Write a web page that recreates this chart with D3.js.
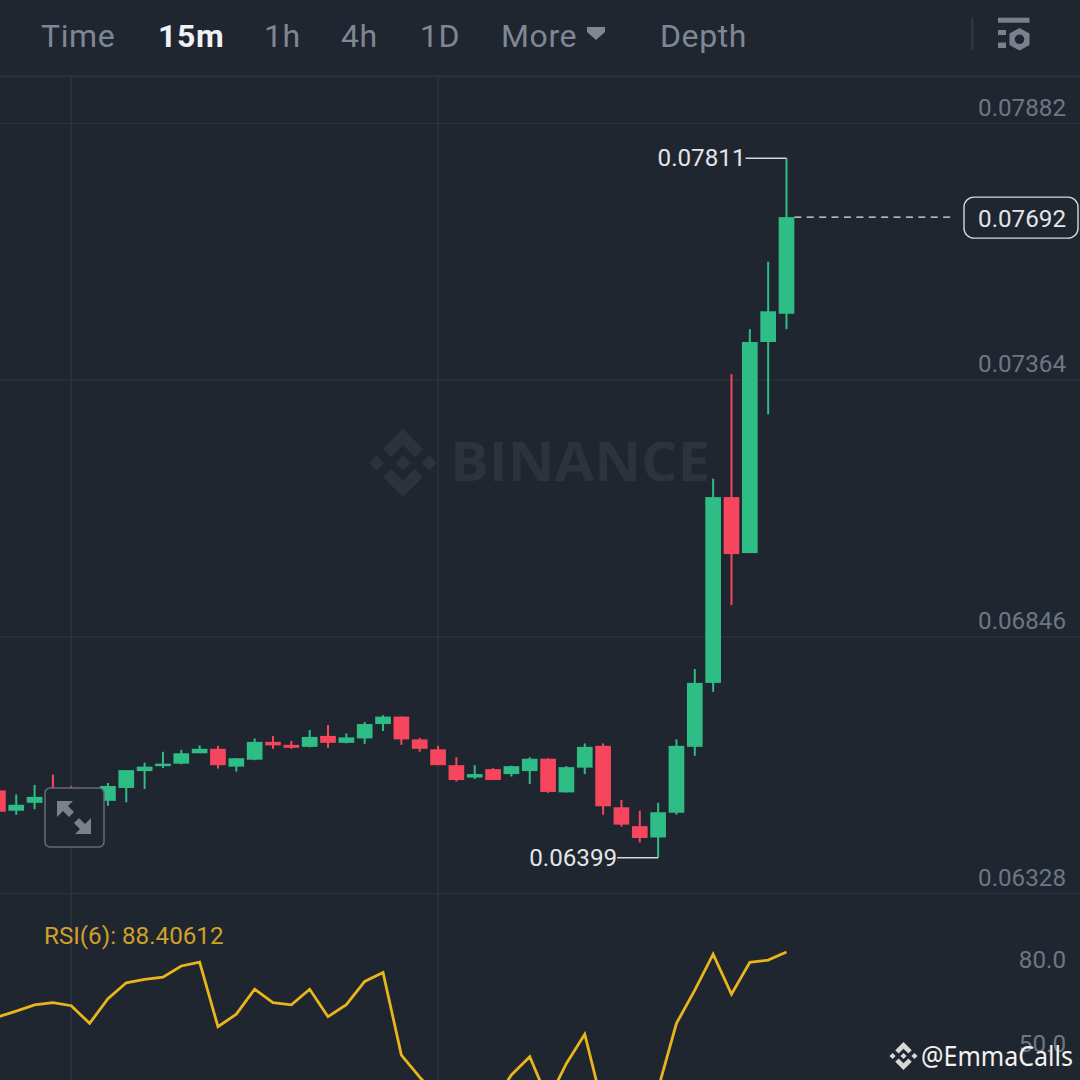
<!DOCTYPE html>
<html>
<head>
<meta charset="utf-8">
<script src="https://cdn.jsdelivr.net/npm/d3@7"></script>
<style>
  html, body { margin: 0; padding: 0; background: #1f2630; }
  svg { display: block; font-family: Roboto, sans-serif; }
</style>
</head>
<body>
<div id="chart-area"></div>
<script>
// 15m candles (three behind the expand button are guesses)
let opens = [0.06535, 0.06494, 0.0651, 0.06536, 0.06532, 0.06516, 0.06514, 0.0654, 0.06574, 0.06584, 0.06589,
  0.0661, 0.06619, 0.06583, 0.06597, 0.06633, 0.06627, 0.06623, 0.06645, 0.06631, 0.0664, 0.06669,
  0.06684, 0.06638, 0.06618, 0.06586, 0.06561, 0.06578, 0.06568, 0.06574, 0.06599, 0.06531, 0.06581,
  0.06625, 0.06501, 0.06463, 0.0644, 0.0649, 0.06623, 0.06752, 0.07127, 0.07014, 0.0744, 0.07497];
let closes = [0.06492, 0.06506, 0.06522, 0.06522, 0.06518, 0.06526, 0.06544, 0.06576, 0.06583, 0.06589, 0.0661,
  0.06619, 0.06586, 0.066, 0.06633, 0.06626, 0.06621, 0.06643, 0.06631, 0.06642, 0.06669, 0.06684,
  0.06638, 0.06619, 0.06586, 0.06556, 0.06568, 0.06556, 0.06584, 0.06599, 0.06532, 0.06582, 0.06623,
  0.06503, 0.06466, 0.06439, 0.06491, 0.06625, 0.06752, 0.07127, 0.07012, 0.0744, 0.07502, 0.07692];
let highs = [0.06535, 0.06527, 0.06546, 0.06567, 0.06544, 0.06532, 0.0655, 0.06576, 0.06591, 0.06613, 0.06617,
  0.06626, 0.06625, 0.066, 0.0664, 0.06645, 0.06635, 0.06657, 0.06667, 0.0665, 0.06673, 0.06687,
  0.06684, 0.06641, 0.06625, 0.06602, 0.06586, 0.0658, 0.06585, 0.06602, 0.066, 0.06584, 0.0663,
  0.0663, 0.06516, 0.06494, 0.0651, 0.06638, 0.0678, 0.07164, 0.07375, 0.07466, 0.07602, 0.07811];
let lows = [0.06492, 0.06486, 0.06497, 0.06516, 0.06514, 0.0651, 0.06504, 0.06511, 0.06538, 0.0658, 0.06588,
  0.0661, 0.06579, 0.06573, 0.06596, 0.06619, 0.06619, 0.06622, 0.06621, 0.0663, 0.06629, 0.06655,
  0.06627, 0.06613, 0.06586, 0.06553, 0.06558, 0.06556, 0.06563, 0.06548, 0.0653, 0.06531, 0.06568,
  0.06486, 0.06462, 0.0643, 0.06399, 0.06486, 0.06605, 0.06734, 0.06909, 0.07014, 0.07294, 0.07466];
// values past the bottom of the picture are estimates
let rsi = [65.2, 67.3, 69.5, 70.3, 69.2, 62.9, 71.7, 77.4, 78.6, 79.4, 83.4,
  84.8, 61.7, 66.2, 75.1, 70.3, 69.5, 75.1, 65.3, 69.6, 77.9, 81.1,
  51.6, 43.7, 36.6, 32, 32.7, 34.5, 44.5, 51, 35.5, 48.6, 59,
  32.7, 28.4, 25.5, 39.5, 62.9, 74.8, 87.6, 73.3, 84.7, 85.5, 88.4];

let priceTicks = [0.07882, 0.07364, 0.06846, 0.06328];
let rsiTicks = [80, 50];
let timeGrid = [4, 24];
let menuItems = ['Time', '15m', '1h', '4h', '1D', 'More', 'Depth'];
let menuX = [41, 158, 264, 341, 420, 501, 660];

let bg = '#1f2630';
let gridColor = '#2e343f';
let tickColor = '#6f7683';
let menuColor = '#7f8794';
let green = '#2ebd85';
let red = '#f6465d';

let width = 1080;
let height = 1080;

let chart = d3
  .select('#chart-area')
  .append('svg')
  .attr('id', 'chart')
  .attr('width', width)
  .attr('height', height);

chart.append('rect').attr('width', width).attr('height', height).attr('fill', bg);

let x = d3.scaleLinear().domain([0, 43]).range([-2.1, 786.5]);
let y = d3.scaleLinear().domain([0.06328, 0.07882]).range([893, 123]);
let yRsi = d3.scaleLinear().domain([50, 80]).range([1059.5, 975.5]);

let candleWidth = 15.7;

//binance logo, radius 1 around the origin
function drawLogo(parent, cx, cy, r, color) {
  let logo = parent
    .append('g')
    .attr('transform', `translate(${cx},${cy}) scale(${r})`)
    .attr('fill', color);
  let shapes = [
    'M0,-1L.59,-.41L.35,-.17L0,-.52L-.35,-.17L-.59,-.41Z',
    'M0,1L.59,.41L.35,.17L0,.52L-.35,.17L-.59,.41Z',
    'M0,-.22L.22,0L0,.22L-.22,0Z',
    'M-.78,-.22L-.56,0L-.78,.22L-1,0Z',
    'M.78,-.22L1,0L.78,.22L.56,0Z',
  ];
  logo.selectAll('path').data(shapes).enter().append('path').attr('d', (d) => d);
}

//vertical time grid
chart
  .append('g')
  .selectAll('line')
  .data(timeGrid)
  .enter()
  .append('line')
  .attr('x1', (d) => x(d))
  .attr('x2', (d) => x(d))
  .attr('y1', 77)
  .attr('y2', height)
  .attr('stroke', gridColor)
  .attr('stroke-width', 1.5);

//price axis, ticks run the whole width
let priceAxis = chart
  .append('g')
  .call(
    d3.axisRight(y).tickValues(priceTicks).tickSize(width).tickFormat(d3.format('.5f')),
  );
priceAxis.select('.domain').remove();
priceAxis.selectAll('line').attr('stroke', gridColor).attr('stroke-width', 1.2);
priceAxis
  .selectAll('text')
  .attr('x', 1066)
  .attr('dy', -8)
  .attr('text-anchor', 'end')
  .attr('fill', tickColor)
  .attr('font-size', 24.2)
  .attr('font-family', 'Roboto');

//watermark
drawLogo(chart, 403, 463, 34, '#2d323c');
chart
  .append('text')
  .attr('x', 450)
  .attr('y', 481)
  .attr('textLength', 260)
  .attr('lengthAdjust', 'spacingAndGlyphs')
  .attr('font-family', 'Open Sans')
  .attr('font-weight', 700)
  .attr('font-size', 53)
  .attr('fill', '#2d323c')
  .text('BINANCE');

//candles
let candles = chart
  .append('g')
  .attr('id', 'candles')
  .selectAll('g')
  .data(opens.map((d, i) => i))
  .enter()
  .append('g')
  .attr('fill', (i) => (closes[i] >= opens[i] ? green : red));
candles
  .append('rect')
  .attr('x', (i) => x(i) - 1)
  .attr('width', 2)
  .attr('y', (i) => y(highs[i]))
  .attr('height', (i) => y(lows[i]) - y(highs[i]));
candles
  .append('rect')
  .attr('x', (i) => x(i) - candleWidth / 2)
  .attr('width', candleWidth)
  .attr('y', (i) => y(Math.max(opens[i], closes[i])))
  .attr('height', (i) => Math.abs(y(opens[i]) - y(closes[i])));

//high and low labels
let maxIndex = highs.indexOf(d3.max(highs));
let minIndex = lows.indexOf(d3.min(lows));
let extremes = [
  { index: maxIndex, price: highs[maxIndex] },
  { index: minIndex, price: lows[minIndex] },
];
let extremeLabels = chart.append('g').selectAll('g').data(extremes).enter().append('g');
extremeLabels
  .append('line')
  .attr('x1', (d) => x(d.index) - 41)
  .attr('x2', (d) => x(d.index))
  .attr('y1', (d) => y(d.price))
  .attr('y2', (d) => y(d.price))
  .attr('stroke', '#d5d8dc')
  .attr('stroke-width', 1.4);
extremeLabels
  .append('text')
  .attr('x', (d) => x(d.index) - 41)
  .attr('y', (d) => y(d.price) + 8)
  .attr('text-anchor', 'end')
  .attr('fill', '#e3e5e8')
  .attr('font-size', 24.2)
  .text((d) => d3.format('.5f')(d.price));

//last price
let lastPrice = closes[closes.length - 1];
chart
  .append('line')
  .attr('x1', x(43) + candleWidth / 2)
  .attr('x2', 955)
  .attr('y1', y(lastPrice))
  .attr('y2', y(lastPrice))
  .attr('stroke', '#e3e5e8')
  .attr('stroke-width', 1.4)
  .attr('stroke-dasharray', '7 5.4');
chart
  .append('rect')
  .attr('x', 964)
  .attr('y', y(lastPrice) - 20)
  .attr('width', 114)
  .attr('height', 41)
  .attr('rx', 10)
  .attr('fill', bg)
  .attr('stroke', '#d5d8dc')
  .attr('stroke-width', 1.4);
chart
  .append('text')
  .attr('x', 1066)
  .attr('y', y(lastPrice) + 9.5)
  .attr('text-anchor', 'end')
  .attr('fill', '#e3e5e8')
  .attr('font-size', 24.2)
  .text(d3.format('.5f')(lastPrice));

//expand button
let button = chart.append('g').attr('transform', 'translate(45,788)');
button
  .append('rect')
  .attr('width', 59)
  .attr('height', 59)
  .attr('rx', 5)
  .attr('fill', bg)
  .attr('stroke', '#666c78')
  .attr('stroke-width', 1.5);
button
  .append('path')
  .attr('d', 'M12,13L28,13L23,18L29,24L24,29L18,23L12,29Z M46,46L30,46L35,41L29,35L34,30L40,36L46,30Z')
  .attr('fill', '#7b808c');

//rsi pane
let rsiLine = d3
  .line()
  .x((d, i) => x(i))
  .y((d) => yRsi(d));
chart
  .append('path')
  .datum(rsi)
  .attr('d', rsiLine)
  .attr('fill', 'none')
  .attr('stroke', '#eab51c')
  .attr('stroke-width', 2.8)
  .attr('stroke-linejoin', 'miter');
chart
  .append('text')
  .attr('x', 44)
  .attr('y', 944)
  .attr('fill', '#cfa02a')
  .attr('font-size', 24.2)
  .text('RSI(6): 88.40612');

let rsiAxis = chart.append('g').call(
  d3.axisLeft(yRsi).tickValues(rsiTicks).tickSize(0).tickFormat(d3.format('.1f')),
);
rsiAxis.select('.domain').remove();
rsiAxis
  .selectAll('text')
  .attr('x', 1066)
  .attr('dy', -8)
  .attr('text-anchor', 'end')
  .attr('fill', tickColor)
  .attr('font-size', 24.2)
  .attr('font-family', 'Roboto');

//header
chart
  .append('rect')
  .attr('x', 0)
  .attr('y', 75)
  .attr('width', width)
  .attr('height', 2.5)
  .attr('fill', '#2a303b');
chart
  .append('g')
  .selectAll('text')
  .data(menuItems)
  .enter()
  .append('text')
  .attr('x', (d, i) => menuX[i])
  .attr('y', 47)
  .attr('font-size', 32)
  .attr('font-weight', (d) => (d === '15m' ? 700 : 400))
  .attr('letter-spacing', 0.6)
  .attr('fill', (d) => (d === '15m' ? '#f0f1f4' : menuColor))
  .text((d) => d);
chart.append('path').attr('d', 'M587,27L605,27L605,32L596,40L587,32Z').attr('fill', menuColor);
chart.append('rect').attr('x', 971).attr('y', 17).attr('width', 2.5).attr('height', 33).attr('fill', '#2f3541');
let settings = chart.append('g').attr('fill', '#7b808c');
settings.append('rect').attr('x', 998).attr('y', 17.7).attr('width', 31.5).attr('height', 5);
settings.append('rect').attr('x', 998).attr('y', 30).attr('width', 8).attr('height', 5);
settings.append('rect').attr('x', 998).attr('y', 42.5).attr('width', 8).attr('height', 5.5);
settings
  .append('path')
  .attr('fill-rule', 'evenodd')
  .attr('d', 'M1019.5,28L1029.5,33.5L1029.5,45L1019.5,50.5L1009.5,45L1009.5,33.5Z M1019.5,34.5A4.8,4.8 0 1 0 1019.5,44.1A4.8,4.8 0 1 0 1019.5,34.5Z');

//author watermark
drawLogo(chart, 903.5, 1056, 14, '#d8d8d8');
chart
  .append('text')
  .attr('x', 921)
  .attr('y', 1066)
  .attr('textLength', 152)
  .attr('lengthAdjust', 'spacingAndGlyphs')
  .attr('font-family', 'Noto Sans')
  .attr('font-size', 27)
  .attr('fill', '#f2f2f2')
  .text('@EmmaCalls');
</script>
</body>
</html>
